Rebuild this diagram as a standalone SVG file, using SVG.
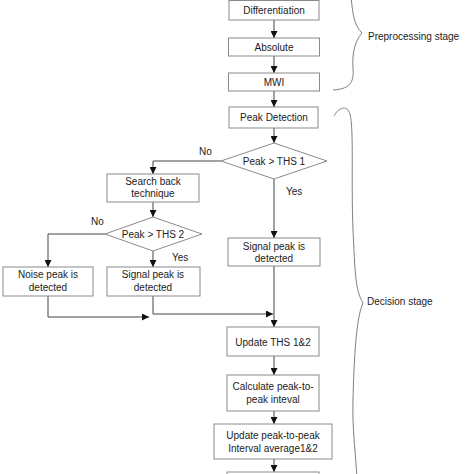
<svg xmlns="http://www.w3.org/2000/svg" width="474" height="474" viewBox="0 0 474 474">
<defs>
<marker id="ah" markerUnits="userSpaceOnUse" markerWidth="7" markerHeight="7" refX="7" refY="3.5" orient="auto">
<path d="M0,0 L7,3.5 L0,7 z" fill="#111"/>
</marker>
<style>
.box{fill:#fff;stroke:#8a8a8a;stroke-width:1}
.t{font-family:"Liberation Sans",Arial,sans-serif;font-size:10px;fill:#222;text-anchor:middle}
.l{font-family:"Liberation Sans",Arial,sans-serif;font-size:10px;fill:#222}
.c{fill:none;stroke:#444;stroke-width:1;marker-end:url(#ah)}
.br{fill:none;stroke:#808080;stroke-width:1}
</style>
</defs>
<rect width="474" height="474" fill="#fff"/>
<g id="connectors">
<path class="c" d="M274,20 V38"/>
<path class="c" d="M274,91 V107"/>
<path class="c" d="M274,56 V73"/>
<path class="c" d="M274,128 V143"/>
<path class="c" d="M221,161 H153 V174"/>
<path class="c" d="M274,179 V238"/>
<path class="c" d="M153,202 V217"/>
<path class="c" d="M105,234 H48 V267"/>
<path class="c" d="M153,251 V267"/>
<path class="c" d="M48,296 V317 H149"/>
<path class="c" d="M153,296 V314 H273"/>
<path class="c" d="M274,266 V327"/>
<path class="c" d="M274,356 V375"/>
<path class="c" d="M274,411 V424"/>
<path class="c" d="M274,459 V472"/>
</g>
<g id="differentiation"><rect class="box" x="229" y="0.5" width="90" height="19.5"/><text class="t" x="274" y="14">Differentiation</text></g>
<g id="absolute"><rect class="box" x="228.5" y="38" width="91" height="18"/><text class="t" x="274" y="51">Absolute</text></g>
<g id="mwi"><rect class="box" x="228.5" y="73" width="91" height="18"/><text class="t" x="274" y="86">MWI</text></g>
<g id="peak-detection"><rect class="box" x="229" y="107" width="89" height="21"/><text class="t" x="274" y="121">Peak Detection</text></g>
<g id="decision1"><polygon class="box" points="274,143 327,161 274,179 221,161"/><text class="t" x="274" y="165">Peak &gt; THS 1</text></g>
<g id="search-back"><rect class="box" x="107" y="174" width="92" height="28"/><text class="t" x="153" y="185">Search back</text><text class="t" x="153" y="197">technique</text></g>
<g id="decision2"><polygon class="box" points="153,217 202,234 153,251 105,234"/><text class="t" x="153" y="238">Peak &gt; THS 2</text></g>
<g id="noise-peak"><rect class="box" x="3" y="267" width="90" height="29"/><text class="t" x="48" y="278">Noise peak is</text><text class="t" x="48" y="291">detected</text></g>
<g id="signal-peak2"><rect class="box" x="107" y="267" width="93" height="29"/><text class="t" x="153" y="278">Signal peak is</text><text class="t" x="153" y="291">detected</text></g>
<g id="signal-peak1"><rect class="box" x="228" y="238" width="92" height="28"/><text class="t" x="274" y="250">Signal peak is</text><text class="t" x="274" y="262">detected</text></g>
<g id="update-ths"><rect class="box" x="227" y="327" width="92" height="29"/><text class="t" x="273" y="346">Update THS 1&amp;2</text></g>
<g id="calc"><rect class="box" x="227" y="375" width="92" height="36"/><text class="t" x="273" y="390">Calculate peak-to-</text><text class="t" x="273" y="403">peak inteval</text></g>
<g id="update-p2p"><rect class="box" x="214" y="424" width="118" height="35"/><text class="t" x="273" y="439">Update peak-to-peak</text><text class="t" x="273" y="452">Interval average1&amp;2</text></g>
<g id="next"><rect class="box" x="227" y="472" width="92" height="10"/></g>
<g id="labels">
<text class="l" x="199" y="155">No</text>
<text class="l" x="286" y="195">Yes</text>
<text class="l" x="91" y="225">No</text>
<text class="l" x="172" y="261">Yes</text>
</g>
<g id="braces">
<path class="br" d="M351,-2 C353,12 353,24 362,33 C354,42 352,56 353,68 C354,80 352,89 333,90"/>
<text class="l" x="368" y="40">Preprocessing stage</text>
<path class="br" d="M334,116 C338,108 347,104 350,114 C354,130 351,180 353,230 C355,270 355,290 363,303 C356,318 354,360 353,400 C352,430 356,455 357,480"/>
<text class="l" x="367" y="305">Decision stage</text>
</g>
</svg>
